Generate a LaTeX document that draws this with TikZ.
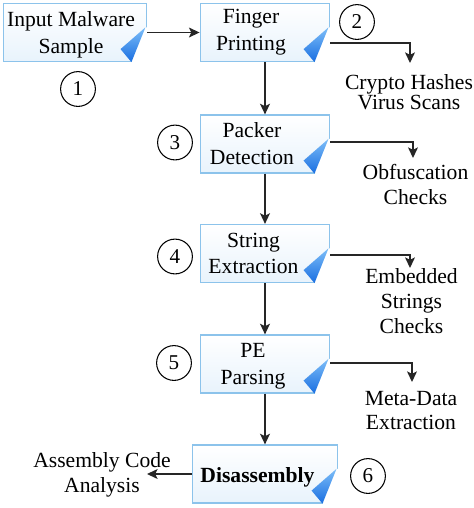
\documentclass[tikz,border=0pt]{standalone}
\usepackage{fontspec}
\setmainfont{Liberation Serif}
\usetikzlibrary{arrows.meta,calc,positioning}
\definecolor{boxline}{RGB}{140,195,235}
\definecolor{boxfill}{RGB}{232,243,252}
\definecolor{folddark}{RGB}{25,110,225}
\definecolor{foldlight}{RGB}{125,190,248}
\tikzset{>={Stealth[length=6pt,width=5.6pt,inset=1.3pt]},
	sbox/.style={rectangle,draw=boxline,line width=0.8pt,top color=white,bottom color=boxfill,minimum width=73.7pt,minimum height=32.9pt,inner sep=0pt},
	stext/.style={align=center,inner sep=0pt,font=\fontsize{12.3pt}{15.3pt}\selectfont},
	otext/.style={align=center,inner sep=0pt,font=\fontsize{12.3pt}{14.2pt}\selectfont},
	num/.style={circle,draw=black,line width=0.6pt,minimum size=19.8pt,inner sep=0pt,font=\fontsize{12pt}{12pt}\selectfont},
	flow/.style={->,line width=0.85pt,draw=black!85}}
\begin{document}
\begin{tikzpicture}[x=0.02cm,y=-0.02cm]
	\useasboundingbox (0,0) rectangle (474,508);
	\node (S1) at (75,32.5) [sbox,minimum width=81.6pt] {};
	\node (S2) at (265,32.5) [sbox] {};
	\node (S3) at (265,144) [sbox] {};
	\node (S4) at (265,253.5) [sbox] {};
	\node (S5) at (265,364) [sbox] {};
	\node (S6) at (265,474) [sbox,minimum width=82.8pt] {};
	% folded corners
	\foreach \s in {S1,S2,S3,S4,S5,S6} {
		\fill[white] ([shift={(-1.1pt,19.8pt)}]\s.south east) -- ([shift={(0.6pt,19.8pt)}]\s.south east)
			-- ([shift={(0.6pt,-0.6pt)}]\s.south east) -- ([shift={(-9.1pt,-0.6pt)}]\s.south east) -- cycle;
		\shade[top color=foldlight,bottom color=folddark] ([shift={(-1.1pt,19.8pt)}]\s.south east)
			-- ([shift={(-15.3pt,7.4pt)}]\s.south east) -- ([shift={(-9.1pt,0pt)}]\s.south east) -- cycle;
	}
	\node (L1) at (71,35) [stext] {Input Malware\\Sample};
	\node (L2) at (251,32) [stext] {Finger\\Printing};
	\node (L3) at (252,144) [stext] {Packer\\Detection};
	\node (L4) at (253.5,253.5) [stext] {String\\Extraction};
	\node (L5) at (253,366.5) [stext] {PE\\Parsing};
	\node (L6) at (257.5,477) [stext] {\textbf{Disassembly}};
	\node (c1) at (78,89) [num] {1};
	\node (c2) at (357,22) [num] {2};
	\node (c3) at (175,142.5) [num] {3};
	\node (c4) at (175,256.5) [num] {4};
	\node (c5) at (174,363) [num] {5};
	\node (c6) at (368,476) [num] {6};
	\node (o2) at (409,92) [otext,font=\fontsize{12.3pt}{11.3pt}\selectfont] {Crypto Hashes\\Virus Scans};
	\node (o3) at (415.5,184.5) [otext] {Obfuscation\\Checks};
	\node (o4) at (411.5,301) [otext] {Embedded\\Strings\\Checks};
	\node (o5) at (411,410.5) [otext] {Meta-Data\\Extraction};
	\node (o6) at (102,475) [otext] {Assembly Code\\Analysis};
	\coordinate (a2) at (410,63);
	\coordinate (a3) at (413,158);
	\coordinate (a4) at (410,268);
	\coordinate (a5) at (412,382);
	\coordinate (a6) at (147,474);
	\draw [flow] (S1) -- (S2);
	\draw [flow] (S2) -- (S3);
	\draw [flow] (S3) -- (S4);
	\draw [flow] (S4) -- (S5);
	\draw [flow] (S5) -- (S6);
	\draw [flow] ([yshift=-6pt]S2.east) -| (a2);
	\draw [flow] ([yshift=1.1pt]S3.east) -| (a3);
	\draw [flow] ([yshift=-0.9pt]S4.east) -| (a4);
	\draw [flow] ([yshift=0.6pt]S5.east) -| (a5);
	\draw [flow] (S6) -- (a6);
\end{tikzpicture}
\end{document}
